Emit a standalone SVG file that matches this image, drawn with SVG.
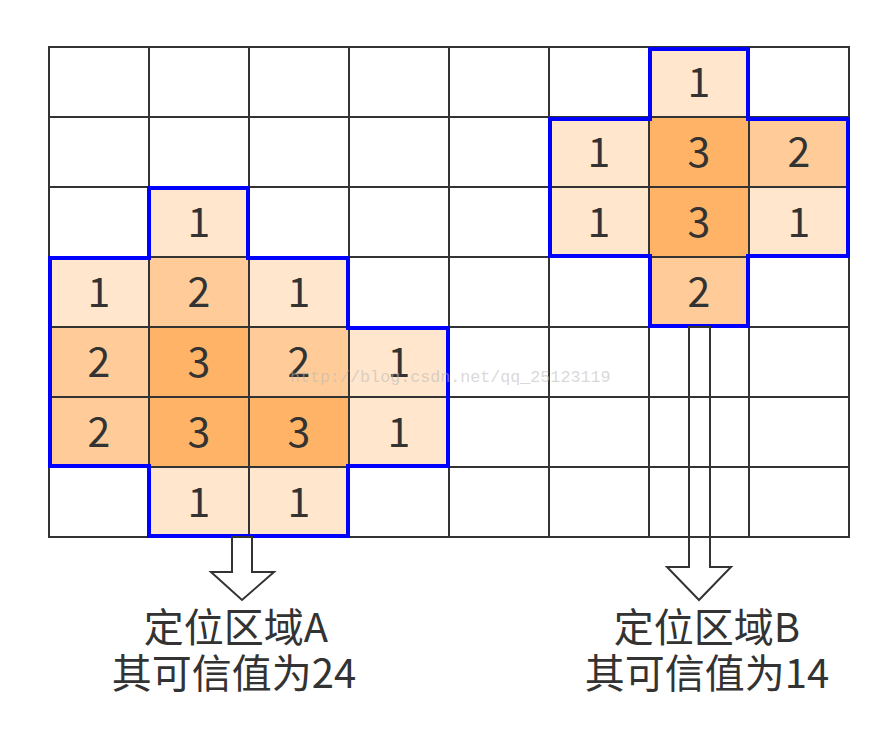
<svg xmlns="http://www.w3.org/2000/svg" width="882" height="731" viewBox="0 0 882 731">
<style>
.g{stroke:#333;stroke-width:2;fill:none}
.cell{stroke:#333;stroke-width:2}
.c1{fill:#FFE6CC}
.c2{fill:#FFCC99}
.c3{fill:#FFB366}
.n{font-family:"Noto Sans CJK SC","Noto Sans",sans-serif;font-size:41px;fill:#333;text-anchor:middle}
.ol{fill:none;stroke:#0000FF;stroke-width:4;stroke-linejoin:miter}
.arr{fill:none;stroke:#333;stroke-width:2;stroke-linejoin:miter}
.lbl{font-family:"Noto Sans CJK SC","Noto Sans",sans-serif;font-size:40px;fill:#333;text-anchor:middle}
.wm{font-family:"Liberation Mono",monospace;font-size:16.7px;fill:#b8b8b8;fill-opacity:0.55}
</style>
<rect width="882" height="731" fill="#fff"/>
<g id="grid" class="g">
<rect x="49" y="47" width="800" height="490"/>
<path d="M149 47V537M249 47V537M349 47V537M449 47V537M549 47V537M649 47V537M749 47V537M49 117H849M49 187H849M49 257H849M49 327H849M49 397H849M49 467H849"/>
</g>
<g id="regionA">
<rect class="cell c1" x="149" y="187" width="100" height="70"/>
<rect class="cell c1" x="49" y="257" width="100" height="70"/>
<rect class="cell c2" x="149" y="257" width="100" height="70"/>
<rect class="cell c1" x="249" y="257" width="100" height="70"/>
<rect class="cell c2" x="49" y="327" width="100" height="70"/>
<rect class="cell c3" x="149" y="327" width="100" height="70"/>
<rect class="cell c2" x="249" y="327" width="100" height="70"/>
<rect class="cell c1" x="349" y="327" width="100" height="70"/>
<rect class="cell c2" x="49" y="397" width="100" height="70"/>
<rect class="cell c3" x="149" y="397" width="100" height="70"/>
<rect class="cell c3" x="249" y="397" width="100" height="70"/>
<rect class="cell c1" x="349" y="397" width="100" height="70"/>
<rect class="cell c1" x="149" y="467" width="100" height="70"/>
<rect class="cell c1" x="249" y="467" width="100" height="70"/>
<text class="n" x="199" y="237">1</text>
<text class="n" x="99" y="307">1</text>
<text class="n" x="199" y="307">2</text>
<text class="n" x="299" y="307">1</text>
<text class="n" x="99" y="377">2</text>
<text class="n" x="199" y="377">3</text>
<text class="n" x="299" y="377">2</text>
<text class="n" x="399" y="377">1</text>
<text class="n" x="99" y="447">2</text>
<text class="n" x="199" y="447">3</text>
<text class="n" x="299" y="447">3</text>
<text class="n" x="399" y="447">1</text>
<text class="n" x="199" y="517">1</text>
<text class="n" x="299" y="517">1</text>
<path class="ol" d="M149 188H248V258H348V328H448V466H348V536H149V466H50V258H149Z"/>
</g>
<g id="regionB">
<rect class="cell c1" x="649" y="47" width="100" height="70"/>
<rect class="cell c1" x="549" y="117" width="100" height="70"/>
<rect class="cell c3" x="649" y="117" width="100" height="70"/>
<rect class="cell c2" x="749" y="117" width="100" height="70"/>
<rect class="cell c1" x="549" y="187" width="100" height="70"/>
<rect class="cell c3" x="649" y="187" width="100" height="70"/>
<rect class="cell c1" x="749" y="187" width="100" height="70"/>
<rect class="cell c2" x="649" y="257" width="100" height="70"/>
<text class="n" x="699" y="97">1</text>
<text class="n" x="599" y="167">1</text>
<text class="n" x="699" y="167">3</text>
<text class="n" x="799" y="167">2</text>
<text class="n" x="599" y="237">1</text>
<text class="n" x="699" y="237">3</text>
<text class="n" x="799" y="237">1</text>
<text class="n" x="699" y="307">2</text>
<path class="ol" d="M650 49H748V119H848V256H748V326H650V256H550V119H650Z"/>
</g>
<g id="watermark">
<text class="wm" x="290" y="382">http://blog.csdn.net/qq_25123119</text>
</g>
<g id="connectors">
<path class="arr" d="M232 537V572H211L242 600L274 572H252V537Z"/>
<path class="arr" d="M689 327V567H667L699 600L731 567H710V327Z"/>
</g>
<g id="labelA">
<text class="lbl" x="236" y="642">定位区域A</text>
<text class="lbl" x="234" y="688">其可信值为24</text>
</g>
<g id="labelB">
<text class="lbl" x="707" y="642">定位区域B</text>
<text class="lbl" x="707" y="688">其可信值为14</text>
</g>
</svg>
